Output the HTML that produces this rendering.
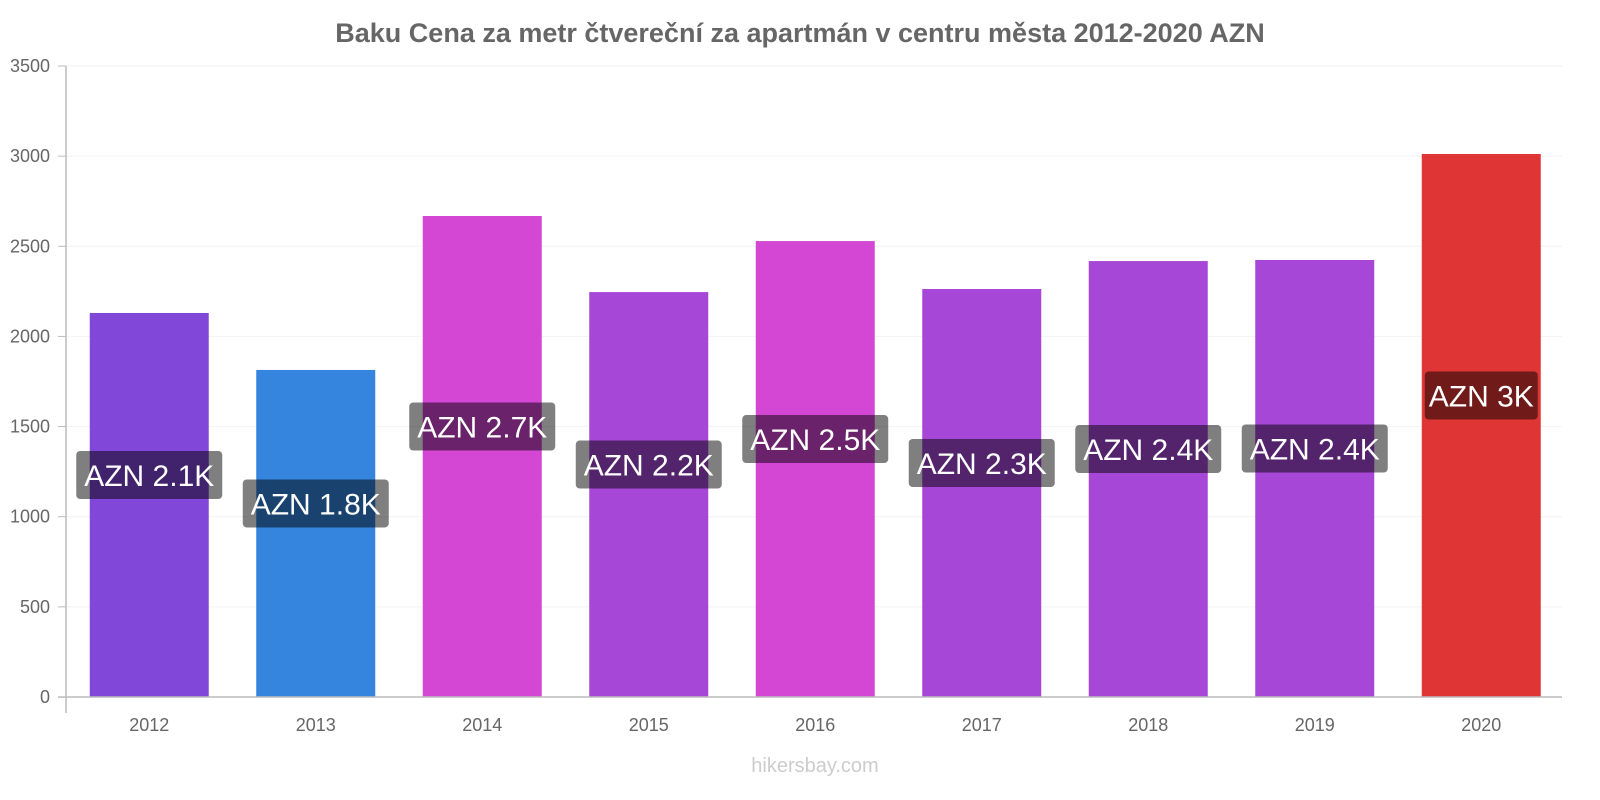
<!DOCTYPE html>
<html><head><meta charset="utf-8"><style>
body{margin:0;background:#fff;font-family:"Liberation Sans",sans-serif;}
svg{display:block}
</style></head><body>
<svg id="chart" width="1600" height="800" xmlns="http://www.w3.org/2000/svg">
<text x="800" y="42" text-anchor="middle" font-size="27" font-weight="bold" fill="#666">Baku Cena za metr čtvereční za apartmán v centru města 2012-2020 AZN</text>
<g id="grid"></g><g id="bars"></g><g id="labels"></g>
<line x1="66" y1="66" x2="66" y2="713" stroke="#bbb" stroke-width="1.5"/>
<line x1="58" y1="697" x2="1562" y2="697" stroke="#bbb" stroke-width="1.5"/>
<text x="815" y="772" text-anchor="middle" font-size="20" fill="#ccc">hikersbay.com</text>
</svg>
<script>
const categories=["2012","2013","2014","2015","2016","2017","2018","2019","2020"];
const values=[2130,1814,2668,2246,2529,2263,2418,2424,3012];
const valueLabels=["AZN 2.1K","AZN 1.8K","AZN 2.7K","AZN 2.2K","AZN 2.5K","AZN 2.3K","AZN 2.4K","AZN 2.4K","AZN 3K"];
const colors=["#8047d8","#3584de","#d447d4","#a747d8","#d447d4","#a747d8","#a747d8","#a747d8","#e03535"];
const yTicks=[0,500,1000,1500,2000,2500,3000,3500];
const NS="http://www.w3.org/2000/svg";
const y=v=>697-v*(631/3500);
const x0=66,step=166.5,bw=119;
const x=i=>x0+step*i+step/2;
function mk(t,a,p){const e=document.createElementNS(NS,t);for(const k in a)e.setAttribute(k,a[k]);p.appendChild(e);return e;}
const grid=document.getElementById('grid'),bars=document.getElementById('bars'),labels=document.getElementById('labels');
yTicks.forEach(t=>{
 const l=mk('line',{x1:66,x2:1562,y1:y(t),y2:y(t),stroke:'#f2f2f2'},grid);
 
 
 const tk=mk('line',{x1:58,x2:66,y1:y(t),y2:y(t),stroke:'#bbb'},grid);
 
 
 const tx=mk('text',{x:50,y:y(t)+6,'text-anchor':'end','font-size':18,fill:'#666'},grid);
 tx.textContent=t;
 
 
});
categories.forEach((c,i)=>{
 const r=mk('rect',{x:x(i)-bw/2,y:y(values[i]),width:bw,height:697-y(values[i]),fill:colors[i]},bars);
 
 
 const tx=mk('text',{x:x(i),y:731,'text-anchor':'middle','font-size':18,fill:'#666'},labels);
 tx.textContent=c;
 
 
 const cy=(y(values[i])+697)/2-30;
 const w=valueLabels[i].length*16.5+14;
 const b=mk('rect',{x:x(i)-w/2,y:cy-24,width:w,height:48,rx:4,fill:'rgba(0,0,0,0.5)'},labels);
 
 
 const vt=mk('text',{x:x(i),y:cy+11,'text-anchor':'middle','font-size':30,fill:'#fff'},labels);
 vt.textContent=valueLabels[i];
 
 
});
</script>
</body></html>
